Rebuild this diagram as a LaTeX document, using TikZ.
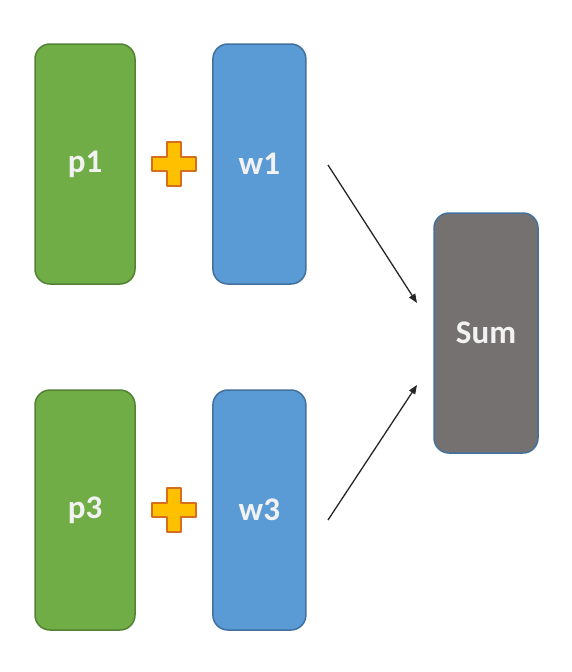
\documentclass[tikz,border=0pt]{standalone}
\usepackage{fontspec}
\setmainfont{Carlito}
\usepackage{tikz}
\usetikzlibrary{positioning, arrows.meta, calc}
\def\nodedistance{16pt}
\definecolor{param}{RGB}{112, 173, 71}
\definecolor{param-line}{RGB}{84, 130, 53}
\definecolor{weight}{RGB}{91, 155, 213}
\definecolor{weight-line}{RGB}{65, 113, 156}
\definecolor{sum}{RGB}{118, 113, 113}
\definecolor{plus}{RGB}{255, 192, 0}
\definecolor{plus-line}{RGB}{214, 110, 30}
\tikzstyle{arrow} = [black!85, -{Triangle[length=9pt, width=7pt]}, line width=1.3pt]
\tikzstyle{plussign} = [fill=plus, draw=plus-line, line width=1.2pt, line join=round]
\newcommand{\tikzboxnode}[2]{\node[
  draw=#2, line width=1.5pt, rounded corners=15pt, minimum width=#1, minimum height=240pt,
  inner sep=0, text=white!95!black, font=\fontsize{33pt}{33pt}\selectfont\bfseries
]}
\newcommand{\tikzplusnode}{\node[
  draw=none, minimum size=44pt, inner sep=0
]}
\newcommand{\tikzplus}[1]{\draw[plussign] (#1.center) ++(-7,-22) -- ++(14,0) -- ++(0,15)
  -- ++(15,0) -- ++(0,14) -- ++(-15,0) -- ++(0,15) -- ++(-14,0) -- ++(0,-15)
  -- ++(-15,0) -- ++(0,-14) -- ++(15,0) -- cycle;}

\begin{document}
\begin{tikzpicture}[x=1pt, y=-1pt, node distance=\nodedistance]
    \useasboundingbox (0,0) rectangle (572,672);
    % nodes
    \tikzboxnode{100pt}{param-line}  [fill=param]  at (85, 164)          (p1)    {p1};
    \tikzplusnode                                  [right = of p1]       (plus1) {};
    \tikzboxnode{93pt}{weight-line}  [fill=weight] [right = of plus1]    (w1)    {w1};
    \tikzboxnode{100pt}{param-line}  [fill=param]  at (85, 510)          (p3)    {p3};
    \tikzplusnode                                  [right = of p3]       (plus3) {};
    \tikzboxnode{93pt}{weight-line}  [fill=weight] [right = of plus3]    (w3)    {w3};
    \tikzboxnode{104pt}{weight-line} [fill=sum]    at (486, 333)         (sum)   {Sum};

    % plus signs
    \tikzplus{plus1}
    \tikzplus{plus3}

    % arrows
    \coordinate (from1) at (328, 165);
    \coordinate (from3) at (328, 520);
    \coordinate (to1)   at (417, 303);
    \coordinate (to3)   at (417, 385);
    \draw[arrow]  (from1) -- (to1);
    \draw[arrow]  (from3) -- (to3);
\end{tikzpicture}
\end{document}
